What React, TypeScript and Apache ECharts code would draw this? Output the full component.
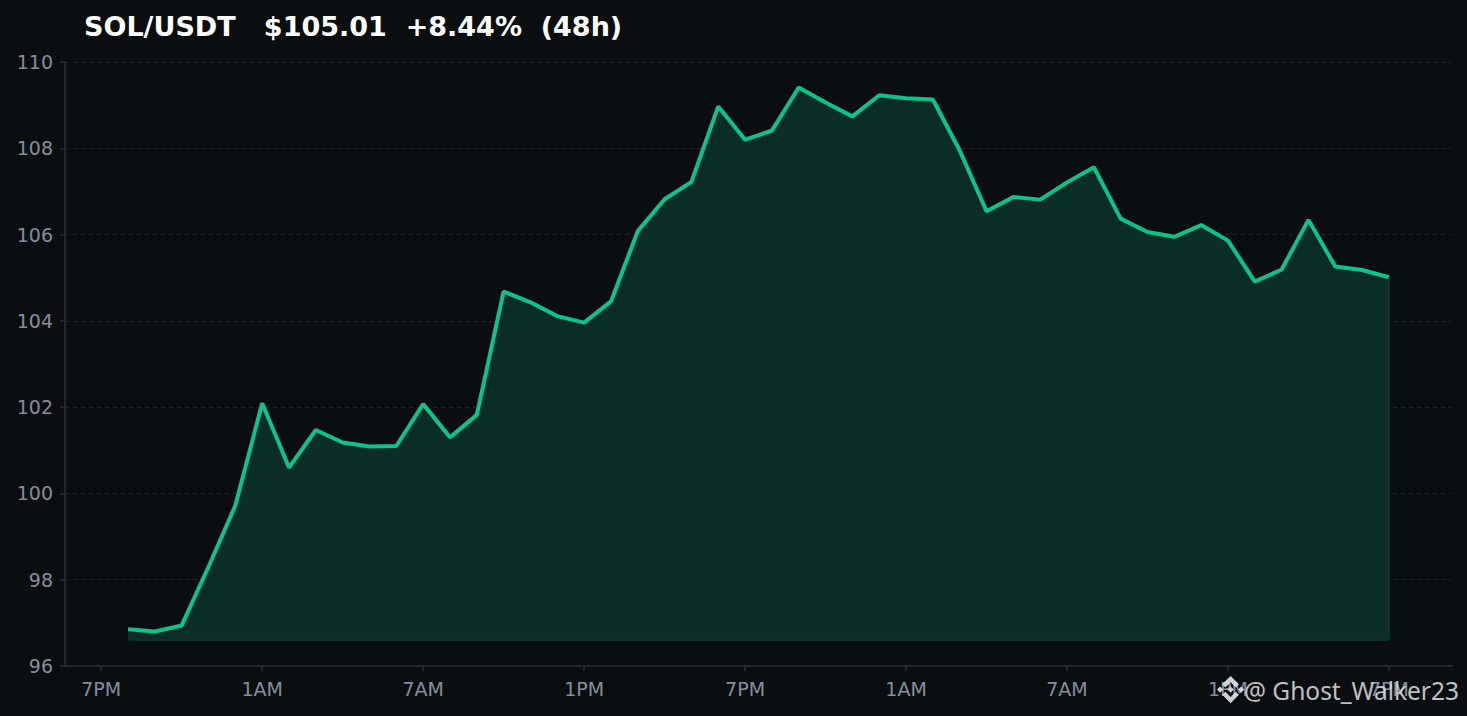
import React, { useEffect, useRef } from "react";
import * as echarts from "echarts";

// Hourly SOL/USDT closes, index 0 = 8PM (day 1) ... index 47 = 7PM (day 3)
const hours: number[] = Array.from({ length: 48 }, (_, i) => i);
const prices: number[] = [
  96.85, 96.8, 96.94, 98.3, 99.72, 102.09, 100.6, 101.47, 101.18, 101.09,
  101.1, 102.07, 101.3, 101.82, 104.68, 104.43, 104.11, 103.96, 104.45, 106.08,
  106.82, 107.22, 108.97, 108.2, 108.41, 109.41, 109.06, 108.74, 109.23, 109.16,
  109.13, 107.95, 106.54, 106.87, 106.81, 107.21, 107.56, 106.37, 106.06, 105.95,
  106.22, 105.86, 104.91, 105.19, 106.34, 105.26, 105.18, 105.01,
];
const floorValue = 96.61;

const xTickValues: number[] = [-1, 5, 11, 17, 23, 29, 35, 41, 47];
const xTickLabels: string[] = ["7PM", "1AM", "7AM", "1PM", "7PM", "1AM", "7AM", "1PM", "7PM"];

const titleText = "SOL/USDT   $105.01  +8.44%  (48h)";
const watermarkText = "@ Ghost_Walker23";

const BINANCE_D =
  "M38.73 53.2l24.59-24.58 24.6 24.6 14.3-14.31L63.32 0 24.42 38.9l14.31 14.3zM0 63.31l14.3-14.31 14.31 14.31-14.31 14.3L0 63.31zm38.73 10.11l24.59 24.59 24.6-24.6 14.31 14.29-38.9 38.91-38.91-38.88-.02-.02 14.33-14.29zm59.58-10.11l14.3-14.31 14.31 14.3-14.31 14.31-14.3-14.3zM77.830 63.3L63.32 48.78 52.59 59.51l-1.240 1.23-2.54 2.54-.02.02.02.03 14.51 14.5 14.51-14.52.01-.01-.01-.01z";

let registered = false;

export default function App() {
  const ref = useRef<HTMLDivElement>(null);
  useEffect(() => {
    if (!ref.current) return;
    if (!registered) {
      echarts.graphic.registerShape("binanceLogo", echarts.graphic.extendPath(BINANCE_D, {}) as any);
      registered = true;
    }
    const chart = echarts.init(ref.current, null, { renderer: "svg" });
    const font = "'DejaVu Sans', sans-serif";
    const labelColor = "#848e9c";
    const axisColor = "#2b3139";
    const lineColor = "#0bc48a";
    chart.setOption({
      animation: false,
      backgroundColor: "#0b0e11",
      title: {
        text: titleText,
        left: 84,
        top: 13,
        padding: 0,
        textStyle: { color: "#ffffff", fontSize: 27, fontWeight: "bold", fontFamily: font },
      },
      grid: { left: 65, right: 15, top: 62, bottom: 50, containLabel: false },
      xAxis: {
        type: "value",
        min: -2.35,
        max: 49.35,
        axisLine: { show: true, onZero: false, lineStyle: { color: axisColor, width: 1.5 } },
        axisTick: { show: true, length: 5, customValues: xTickValues, lineStyle: { color: axisColor, width: 1.5 } },
        axisLabel: {
          customValues: xTickValues,
          margin: 13,
          color: labelColor,
          fontSize: 19,
          fontFamily: font,
          formatter: (v: number) => {
            const k = xTickValues.indexOf(Math.round(v));
            return k >= 0 ? xTickLabels[k] : "";
          },
        },
        splitLine: { show: false },
      },
      yAxis: {
        type: "value",
        min: 96,
        max: 110,
        interval: 2,
        axisLine: { show: true, onZero: false, lineStyle: { color: axisColor, width: 1.5 } },
        axisTick: { show: true, length: 5, lineStyle: { color: axisColor, width: 1.5 } },
        axisLabel: { margin: 12, color: labelColor, fontSize: 19, fontFamily: font },
        splitLine: { show: true, lineStyle: { color: "#1f252c", type: [4, 4], width: 1 } },
      },
      series: [
        {
          type: "line",
          data: hours.map((h, i) => [h, prices[i]]),
          showSymbol: false,
          symbol: "none",
          lineStyle: { color: lineColor, width: 4 },
          itemStyle: { color: lineColor },
          areaStyle: { color: "#0a2d27", origin: floorValue, opacity: 1 },
          z: 3,
          markLine: {
            silent: true,
            symbol: "none",
            label: { show: false },
            lineStyle: { color: "#0c3a30", width: 1.5, type: "solid" },
            data: [
              [{ coord: [hours[0], floorValue] }, { coord: [hours[47], floorValue] }],
              [{ coord: [hours[47], floorValue] }, { coord: [hours[47], prices[47]] }],
            ],
          },
        },
      ],
      graphic: [
        {
          type: "binanceLogo",
          x: 1217,
          y: 676,
          scaleX: 0.215,
          scaleY: 0.215,
          style: { fill: "rgba(230,230,230,0.9)" },
          z: 100,
        },
        {
          type: "text",
          x: 1459,
          y: 690,
          z: 100,
          style: {
            text: watermarkText,
            textAlign: "right",
            textVerticalAlign: "middle",
            fontSize: 24.5,
            fontFamily: "'Noto Sans', sans-serif",
            fill: "rgba(225,225,225,0.85)",
          },
        },
      ],
    });
    return () => chart.dispose();
  }, []);
  return <div ref={ref} style={{ position: "fixed", left: 0, top: 0, width: 1467, height: 716 }} />;
}
